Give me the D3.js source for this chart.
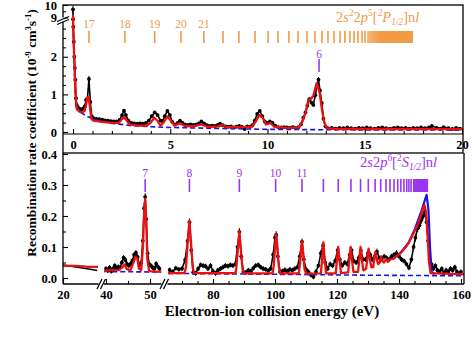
<!DOCTYPE html>
<html>
<head>
<meta charset="utf-8">
<script src="https://cdn.jsdelivr.net/npm/d3@7"></script>
<style>
  body { margin: 0; background: #fff; }
  svg text { font-family: "Liberation Serif", "Times New Roman", serif; }
</style>
</head>
<body>
<svg id="chart" width="474" height="339"></svg>
<script>
// ---------- data: upper panel (0-20 eV) ----------
// experimental points: [energy eV, rate coeff 1e-9 cm3/s, error]
const topExp = [
  [0.000, 9.65, 0.3], [0.005, 6.0, 0.3], [0.015, 2.80, 0.12], [0.04, 2.40, 0.1], [0.067, 2.00, 0.08],
  [0.095, 1.70, 0.07], [0.12, 1.39, 0.06], [0.155, 0.90, 0.05], [0.19, 0.72, 0.04], [0.25, 0.66, 0.04],
  [0.33, 0.62, 0.04], [0.42, 0.60, 0.04], [0.52, 0.62, 0.04], [0.60, 0.68, 0.05], [0.67, 0.85, 0.05],
  [0.74, 0.88, 0.05], [0.82, 1.41, 0.08], [0.89, 0.80, 0.05], [0.96, 0.42, 0.04], [1.05, 0.37, 0.03],
  [1.20, 0.35, 0.03], [1.35, 0.34, 0.03], [1.50, 0.33, 0.03], [1.65, 0.31, 0.03], [1.80, 0.30, 0.03],
  [1.95, 0.29, 0.03], [2.10, 0.28, 0.03], [2.25, 0.28, 0.03], [2.40, 0.32, 0.03], [2.52, 0.45, 0.04],
  [2.62, 0.57, 0.04], [2.72, 0.45, 0.04], [2.85, 0.30, 0.03], [3.00, 0.24, 0.03], [3.15, 0.23, 0.03],
  [3.30, 0.22, 0.03], [3.45, 0.23, 0.03], [3.60, 0.22, 0.03], [3.75, 0.24, 0.03], [3.90, 0.30, 0.03],
  [4.05, 0.42, 0.04], [4.20, 0.52, 0.04], [4.35, 0.45, 0.04], [4.50, 0.30, 0.03], [4.60, 0.29, 0.03],
  [4.72, 0.42, 0.04], [4.85, 0.56, 0.04], [4.98, 0.45, 0.04], [5.10, 0.27, 0.03], [5.24, 0.20, 0.03],
  [5.38, 0.24, 0.03], [5.50, 0.30, 0.03], [5.62, 0.25, 0.03], [5.76, 0.20, 0.03], [5.90, 0.19, 0.03],
  [6.05, 0.20, 0.03], [6.20, 0.19, 0.03], [6.35, 0.20, 0.03], [6.48, 0.23, 0.03], [6.60, 0.28, 0.03],
  [6.74, 0.23, 0.03], [6.88, 0.18, 0.03], [7.02, 0.16, 0.03], [7.16, 0.17, 0.03], [7.30, 0.16, 0.03],
  [7.44, 0.19, 0.03], [7.56, 0.22, 0.03], [7.70, 0.18, 0.03], [7.84, 0.15, 0.03], [7.98, 0.14, 0.03],
  [8.12, 0.15, 0.03], [8.26, 0.12, 0.03], [8.40, 0.14, 0.03], [8.54, 0.16, 0.03], [8.68, 0.14, 0.03],
  [8.82, 0.08, 0.03], [8.96, 0.15, 0.03], [9.10, 0.14, 0.03], [9.22, 0.18, 0.03], [9.34, 0.30, 0.03],
  [9.47, 0.48, 0.04], [9.60, 0.56, 0.04], [9.73, 0.42, 0.04], [9.86, 0.28, 0.03], [10.00, 0.24, 0.03],
  [10.12, 0.28, 0.03], [10.25, 0.25, 0.03], [10.40, 0.17, 0.03], [10.55, 0.13, 0.03], [10.70, 0.12, 0.03],
  [10.85, 0.13, 0.03], [11.00, 0.12, 0.03], [11.15, 0.11, 0.03], [11.30, 0.13, 0.03], [11.45, 0.10, 0.03],
  [11.60, 0.13, 0.03], [11.72, 0.20, 0.03], [11.84, 0.38, 0.04], [11.95, 0.52, 0.04], [12.05, 0.70, 0.05],
  [12.15, 0.87, 0.05], [12.26, 0.78, 0.05], [12.36, 0.72, 0.05], [12.46, 0.98, 0.06], [12.55, 1.25, 0.07],
  [12.62, 1.39, 0.07], [12.70, 1.10, 0.06], [12.79, 0.77, 0.05], [12.88, 0.35, 0.04], [12.98, 0.15, 0.03],
  [13.10, 0.10, 0.03], [13.30, 0.11, 0.03], [13.50, 0.09, 0.03], [13.70, 0.11, 0.03], [13.90, 0.10, 0.03],
  [14.10, 0.12, 0.03], [14.30, 0.10, 0.03], [14.50, 0.09, 0.03], [14.70, 0.11, 0.03], [14.90, 0.10, 0.03],
  [15.10, 0.12, 0.03], [15.30, 0.10, 0.03], [15.50, 0.09, 0.03], [15.70, 0.11, 0.03], [15.90, 0.12, 0.03],
  [16.10, 0.10, 0.03], [16.30, 0.09, 0.03], [16.50, 0.11, 0.03], [16.70, 0.12, 0.03], [16.90, 0.10, 0.03],
  [17.10, 0.11, 0.03], [17.30, 0.09, 0.03], [17.50, 0.11, 0.03], [17.70, 0.10, 0.03], [17.90, 0.12, 0.03],
  [18.10, 0.10, 0.03], [18.30, 0.12, 0.03], [18.45, 0.16, 0.03], [18.70, 0.11, 0.03], [18.90, 0.09, 0.03],
  [19.05, 0.13, 0.03], [19.30, 0.10, 0.03], [19.50, 0.08, 0.03], [19.70, 0.11, 0.03], [19.90, 0.09, 0.03]
];
// theory (red) [energy, value]
const topTheory = [
  [0, 9.2], [0.005, 5.0], [0.015, 2.7], [0.04, 2.3], [0.067, 1.9], [0.095, 1.5], [0.12, 1.15], [0.155, 0.8],
  [0.19, 0.62], [0.3, 0.55], [0.45, 0.52], [0.6, 0.56], [0.67, 0.72], [0.74, 0.92], [0.82, 0.93], [0.88, 0.6],
  [0.95, 0.35], [1.05, 0.3], [1.5, 0.27], [2.0, 0.24], [2.35, 0.24], [2.5, 0.33], [2.62, 0.4], [2.74, 0.32],
  [2.9, 0.2], [3.3, 0.17], [3.8, 0.17], [4.0, 0.25], [4.18, 0.38], [4.34, 0.3], [4.5, 0.17], [4.65, 0.25],
  [4.85, 0.41], [5.0, 0.32], [5.2, 0.17], [5.5, 0.23], [5.75, 0.16], [6.2, 0.15], [6.6, 0.2], [6.9, 0.14],
  [7.5, 0.15], [7.65, 0.19], [7.9, 0.13], [8.5, 0.13], [9.2, 0.14], [9.4, 0.28], [9.58, 0.45], [9.75, 0.38],
  [9.92, 0.2], [10.15, 0.24], [10.35, 0.14], [11.0, 0.11], [11.6, 0.12], [11.8, 0.28], [11.95, 0.5],
  [12.1, 0.85], [12.22, 0.88], [12.35, 0.95], [12.53, 1.3], [12.68, 1.05], [12.8, 0.6], [12.92, 0.25],
  [13.05, 0.1], [13.5, 0.08], [16, 0.08], [20.2, 0.075]
];
// radiative recombination background (blue dashed)
const topRR = [
  [0, 9.0], [0.01, 3.0], [0.04, 2.2], [0.08, 1.5], [0.12, 1.0], [0.16, 0.8], [0.25, 0.62], [0.4, 0.52],
  [0.7, 0.42], [1.0, 0.36], [1.5, 0.28], [2.0, 0.23], [3.0, 0.17], [4.0, 0.14], [5.0, 0.12], [6.0, 0.11],
  [8.0, 0.09], [10.0, 0.07], [13.0, 0.06], [16.0, 0.055], [20.2, 0.05]
];
// Rydberg markers 2s2 2p5 [2P1/2] nl (orange) and 2s2p6 [2S1/2] 6l (purple)
const orangeN = [17, 18, 19, 20, 21];
const orangeLabelE = [0.82, 2.67, 4.2, 5.55, 6.73];
const orangeTickE = [0.82, 2.67, 4.2, 5.55, 6.73, 7.71, 8.53, 9.36, 10.03, 10.54, 11.1, 11.57, 12.03,
  12.44, 12.8, 13.11, 13.42, 13.73, 13.98, 14.24, 14.45, 14.65, 14.86, 15.01];
const orangeBand = [15.12, 17.48];
const topPurpleN = [6];
const topPurpleE = [12.65];

// ---------- data: lower panel (20-160 eV) ----------
const lowExpLine = [[20, 0.042], [25, 0.037], [30, 0.032], [34, 0.028], [37.6, 0.024]];
const lowExp = [
  [40.0, 0.030, 0.008], [40.4, 0.024, 0.008], [40.8, 0.034, 0.008], [41.2, 0.022, 0.008], [41.6, 0.030, 0.008],
  [42.0, 0.040, 0.008], [42.4, 0.030, 0.008], [42.8, 0.036, 0.008], [43.2, 0.034, 0.008], [43.6, 0.050, 0.008],
  [44.0, 0.066, 0.008], [44.4, 0.058, 0.008], [44.8, 0.045, 0.008], [45.2, 0.040, 0.008], [45.6, 0.046, 0.008],
  [46.0, 0.056, 0.008], [46.4, 0.075, 0.008], [46.8, 0.082, 0.008], [47.2, 0.068, 0.008], [47.6, 0.040, 0.008],
  [48.0, 0.048, 0.008], [48.35, 0.120, 0.01], [48.65, 0.225, 0.012], [48.9, 0.262, 0.012], [49.15, 0.190, 0.01],
  [49.45, 0.080, 0.008], [49.8, 0.045, 0.008], [50.2, 0.040, 0.008], [50.6, 0.034, 0.008], [51.0, 0.030, 0.008],
  [51.4, 0.046, 0.008], [51.8, 0.036, 0.008], [52.2, 0.030, 0.008],
  [66.0, 0.026, 0.008], [67.0, 0.020, 0.008], [68.0, 0.032, 0.008], [69.0, 0.028, 0.008], [70.0, 0.030, 0.008],
  [71.0, 0.058, 0.008], [71.8, 0.120, 0.01], [72.4, 0.180, 0.012], [73.0, 0.090, 0.01], [73.6, 0.018, 0.008],
  [74.4, 0.015, 0.008], [75.2, 0.030, 0.008], [76.0, 0.042, 0.008], [76.8, 0.040, 0.008], [77.6, 0.038, 0.008],
  [78.4, 0.030, 0.008], [79.2, 0.040, 0.008], [80.0, 0.022, 0.008], [80.8, 0.015, 0.008], [81.6, 0.025, 0.008],
  [82.4, 0.030, 0.008], [83.2, 0.035, 0.008], [84.0, 0.040, 0.008], [84.8, 0.038, 0.008], [85.6, 0.042, 0.008],
  [86.4, 0.040, 0.008], [87.2, 0.045, 0.008], [87.9, 0.100, 0.01], [88.5, 0.149, 0.012], [89.1, 0.070, 0.01],
  [89.8, 0.020, 0.008], [90.6, 0.018, 0.008], [91.4, 0.025, 0.008], [92.2, 0.022, 0.008], [93.0, 0.032, 0.008],
  [93.8, 0.040, 0.008], [94.6, 0.042, 0.008], [95.4, 0.035, 0.008], [96.2, 0.030, 0.008], [97.0, 0.028, 0.008],
  [97.8, 0.024, 0.008], [98.6, 0.030, 0.008], [99.4, 0.075, 0.01], [100.0, 0.130, 0.012], [100.4, 0.139, 0.012],
  [100.9, 0.070, 0.01], [101.6, 0.020, 0.008], [102.4, 0.022, 0.008], [103.2, 0.026, 0.008], [104.0, 0.022, 0.008],
  [104.8, 0.028, 0.008], [105.6, 0.025, 0.008], [106.4, 0.030, 0.008], [107.2, 0.035, 0.008], [108.0, 0.070, 0.01],
  [108.7, 0.117, 0.01], [109.3, 0.060, 0.008], [110.0, 0.028, 0.008], [110.8, 0.020, 0.008], [111.6, 0.010, 0.008],
  [112.4, 0.004, 0.008], [113.2, 0.020, 0.008], [114.0, 0.040, 0.008], [114.8, 0.080, 0.01], [115.5, 0.105, 0.01],
  [116.2, 0.050, 0.008], [117.0, 0.030, 0.008], [117.8, 0.045, 0.008], [118.6, 0.040, 0.008], [119.4, 0.055, 0.008],
  [120.2, 0.090, 0.01], [120.9, 0.060, 0.008], [121.7, 0.040, 0.008], [122.5, 0.050, 0.008], [123.3, 0.045, 0.008],
  [124.1, 0.075, 0.01], [124.7, 0.090, 0.01], [125.4, 0.055, 0.008], [126.2, 0.050, 0.008], [127.0, 0.065, 0.008],
  [127.7, 0.088, 0.01], [128.4, 0.060, 0.008], [129.2, 0.060, 0.008], [130.0, 0.080, 0.01], [130.7, 0.075, 0.01],
  [131.4, 0.060, 0.008], [132.2, 0.070, 0.008], [132.9, 0.085, 0.01], [133.6, 0.065, 0.008], [134.4, 0.060, 0.008],
  [135.2, 0.070, 0.008], [136.0, 0.065, 0.008], [136.8, 0.060, 0.008], [137.6, 0.070, 0.008], [138.4, 0.075, 0.008],
  [139.2, 0.080, 0.01], [140.0, 0.070, 0.01], [140.8, 0.060, 0.008], [141.6, 0.055, 0.008], [142.4, 0.045, 0.008],
  [143.2, 0.033, 0.008], [144.0, 0.060, 0.01], [144.7, 0.100, 0.01], [145.3, 0.130, 0.012], [146.0, 0.160, 0.012],
  [146.6, 0.170, 0.012], [147.2, 0.187, 0.012], [147.8, 0.200, 0.012], [148.4, 0.214, 0.012], [148.9, 0.180, 0.012],
  [149.4, 0.120, 0.01], [149.9, 0.060, 0.008], [150.5, 0.045, 0.008], [151.1, 0.030, 0.008], [151.7, 0.040, 0.008],
  [152.4, 0.025, 0.008], [153.1, 0.020, 0.008], [153.8, 0.030, 0.008], [154.5, 0.015, 0.008], [155.2, 0.025, 0.008],
  [155.9, 0.020, 0.008], [156.6, 0.030, 0.008], [157.3, 0.025, 0.008], [158.0, 0.035, 0.008], [158.7, 0.020, 0.008],
  [159.4, 0.015, 0.008], [160.0, 0.020, 0.008]
];
const lowTheory = [
  [20, 0.040], [26, 0.039], [32, 0.037], [38, 0.036],
  [39.6, 0.024], [43.0, 0.026], [43.7, 0.034], [44.2, 0.044], [44.7, 0.030], [45.5, 0.024], [46.2, 0.048],
  [46.7, 0.068], [47.1, 0.064], [47.5, 0.030], [48.0, 0.026], [48.4, 0.10], [48.7, 0.22], [48.9, 0.255],
  [49.1, 0.20], [49.4, 0.06], [49.8, 0.022], [52.6, 0.020],
  [65.5, 0.016], [70.8, 0.016], [71.3, 0.035], [71.8, 0.11], [72.4, 0.185], [73.0, 0.10], [73.5, 0.03], [74.0, 0.016],
  [87.2, 0.016], [87.5, 0.03], [88.0, 0.09], [88.5, 0.15], [89.0, 0.09], [89.5, 0.03], [90.0, 0.015],
  [99.2, 0.015], [99.6, 0.04], [100.0, 0.10], [100.4, 0.14], [100.8, 0.10], [101.2, 0.04], [101.7, 0.015],
  [107.7, 0.015], [108.1, 0.05], [108.4, 0.09], [108.75, 0.118], [109.1, 0.08], [109.5, 0.03], [110.0, 0.014],
  [114.8, 0.015], [115.2, 0.06], [115.6, 0.115], [116.0, 0.06], [116.5, 0.015],
  [119.6, 0.015], [120.0, 0.06], [120.4, 0.10], [120.8, 0.06], [121.3, 0.016],
  [123.6, 0.018], [124.0, 0.06], [124.4, 0.10], [124.8, 0.06], [125.3, 0.02],
  [126.8, 0.02], [127.2, 0.06], [127.6, 0.10], [128.0, 0.06], [128.5, 0.025],
  [129.4, 0.03], [129.8, 0.065], [130.2, 0.095], [130.6, 0.06], [131.1, 0.035],
  [131.7, 0.035], [132.0, 0.065], [132.4, 0.085], [132.8, 0.06], [133.3, 0.045],
  [133.8, 0.05], [134.2, 0.07], [134.6, 0.055], [135.2, 0.05], [135.8, 0.062], [136.4, 0.052], [137.1, 0.06],
  [138.2, 0.062], [139.2, 0.07], [140.2, 0.078], [141.2, 0.088], [142.2, 0.10], [143.2, 0.115], [144.2, 0.135],
  [145.2, 0.155], [146.2, 0.175], [147.2, 0.205], [147.8, 0.225], [148.2, 0.235], [148.7, 0.215], [149.2, 0.14],
  [149.7, 0.05], [150.2, 0.016], [161, 0.012]
];
// second theory (blue solid), visible only near the series limit
const lowTheory2 = [
  [140.2, 0.078], [143.2, 0.115], [145.2, 0.16], [147.2, 0.215], [148.3, 0.25], [148.9, 0.268],
  [149.5, 0.22], [150.0, 0.10], [150.5, 0.02], [151.5, 0.012]
];
const lowRR = [
  [20, 0.039], [38, 0.035], [39.6, 0.021], [52.6, 0.019], [65.5, 0.015], [100, 0.012], [130, 0.009], [161, 0.007]
];
const purpleN = [7, 8, 9, 10, 11];
const purpleLabelE = [48.9, 72.4, 88.5, 100.2, 108.7];
const purpleTickE = [48.9, 72.4, 88.5, 100.2, 108.7, 115.6, 120.4, 124.5, 127.6, 130.1, 132.3, 134.1,
  135.8, 137.1, 138.4, 139.6, 140.6, 141.6, 142.5, 143.2, 143.9];
const purpleBand = [144.5, 149.4];

// tick values
const topXMajor = [0, 5, 10, 15, 20];
const topXMinor = d3.range(1, 20).filter(v => v % 5 !== 0);
const topYMajor = [0, 1, 2, 9, 10];
const topYMinor = [0.25, 0.5, 0.75, 1.25, 1.5, 1.75, 2.25, 2.5, 2.75, 9.5];
const lowYMajor = [0, 0.1, 0.2, 0.3, 0.4];
const lowYMinor = [0.05, 0.15, 0.25, 0.35];
const lowXMajor = [[20], [40, 50], [80, 100, 120, 140, 160]];
const lowXMinor = [[], [45], [70, 75, 85, 90, 95, 105, 110, 115, 125, 130, 135, 145, 150, 155]];

// ---------- drawing ----------
const ORANGE = "#f29a44", PURPLE = "#9b35f2", RED = "#ea1010", BLUE = "#1414e6";
const svg = d3.select("#chart");

const xTop = d3.scaleLinear().domain([0, 20]).range([73, 462]);
const yTop = d3.scaleLinear().domain([0, 2.95, 9, 10]).range([132, 21, 17.5, 5]);
const xLow = [
  d3.scaleLinear().domain([20, 38]).range([63, 98]),
  d3.scaleLinear().domain([40, 50]).range([106, 150]),
  d3.scaleLinear().domain([80, 160]).range([213, 461])
];
const segClip = [[63, 98.5], [104, 161.5], [167.5, 464]];
const segOf = e => e < 39 ? 0 : e < 60 ? 1 : 2;
const yLow = d3.scaleLinear().domain([0, 0.4]).range([278, 154]);

const defs = svg.append("defs");
defs.append("clipPath").attr("id", "clipTop").append("rect")
  .attr("x", 63).attr("y", 5).attr("width", 400).attr("height", 129);
segClip.forEach((c, i) => defs.append("clipPath").attr("id", "clipLow" + i).append("rect")
  .attr("x", c[0]).attr("y", 153).attr("width", c[1] - c[0]).attr("height", 131));

// orange band fades in from the left, like densely packed lines
const grad = defs.append("linearGradient").attr("id", "bandOrange");
grad.append("stop").attr("offset", "0%").attr("stop-color", ORANGE).attr("stop-opacity", 0.7);
grad.append("stop").attr("offset", "30%").attr("stop-color", ORANGE).attr("stop-opacity", 1);

function drawLine(g, data, x, y, color, width, dash) {
  g.append("path").datum(data)
    .attr("d", d3.line().x(d => x(d[0])).y(d => y(d[1])))
    .attr("fill", "none").attr("stroke", color).attr("stroke-width", width)
    .attr("stroke-dasharray", dash || null).attr("stroke-linejoin", "round");
}
function drawExp(g, data, x, y) {
  drawLine(g, data, x, y, "#000", 1.6);
  g.selectAll("line.err").data(data).join("line").attr("class", "err")
    .attr("x1", d => x(d[0])).attr("x2", d => x(d[0]))
    .attr("y1", d => y(d[1] - d[2])).attr("y2", d => y(d[1] + d[2]))
    .attr("stroke", "#000").attr("stroke-width", 1);
  g.selectAll("circle").data(data).join("circle")
    .attr("cx", d => x(d[0])).attr("cy", d => y(d[1])).attr("r", 1.9).attr("fill", "#000");
}
function styleAxis(g, size) {
  g.select(".domain").remove();
  g.selectAll("text").attr("font-family", "'Liberation Serif','Times New Roman',serif")
    .attr("font-size", size).attr("font-weight", "bold").attr("fill", "#000");
  g.selectAll("line").attr("stroke", "#000").attr("stroke-width", 1.1);
}
function rich(text, parts, size) {
  let shift = 0;
  parts.forEach(([t, kind]) => {
    const ts = text.append("tspan").text(t);
    const target = kind.includes("sup") ? -0.38 * size : kind.includes("sub") ? 0.22 * size : 0;
    ts.attr("dy", target - shift);
    shift = target;
    if (target !== 0) ts.attr("font-size", size * 0.65);
    if (kind.includes("i")) ts.attr("font-style", "italic");
  });
}

// ----- upper panel -----
const gTop = svg.append("g").attr("clip-path", "url(#clipTop)");
drawExp(gTop, topExp, xTop, yTop);
drawLine(gTop, topRR, xTop, yTop, BLUE, 1.6, "5,3");
drawLine(gTop, topTheory, xTop, yTop, RED, 2.3);

svg.append("rect").attr("x", 63).attr("y", 5).attr("width", 400).attr("height", 148)
  .attr("fill", "none").attr("stroke", "#000").attr("stroke-width", 1.3);
svg.append("line").attr("x1", 63).attr("x2", 463).attr("y1", 134).attr("y2", 134)
  .attr("stroke", "#000").attr("stroke-width", 1.1);

const axTopX = svg.append("g").attr("transform", "translate(0,134)")
  .call(d3.axisBottom(xTop).tickValues(topXMajor).tickSize(-5).tickPadding(6).tickFormat(d3.format("d")));
styleAxis(axTopX, 12.5);
const axTopXm = svg.append("g").attr("transform", "translate(0,134)")
  .call(d3.axisBottom(xTop).tickValues(topXMinor).tickSize(-3).tickFormat(""));
styleAxis(axTopXm, 12);

const axTopY = svg.append("g").attr("transform", "translate(63,0)")
  .call(d3.axisLeft(yTop).tickValues(topYMajor).tickSize(-5).tickPadding(6).tickFormat(d3.format("d")));
styleAxis(axTopY, 12.5);
const axTopYm = svg.append("g").attr("transform", "translate(63,0)")
  .call(d3.axisLeft(yTop).tickValues(topYMinor).tickSize(-3).tickFormat(""));
styleAxis(axTopYm, 12);

// y-axis break
svg.append("rect").attr("x", 61).attr("y", 17.5).attr("width", 4).attr("height", 4).attr("fill", "#fff");
[[57, 21.5, 69, 16.5], [57, 24.5, 69, 19.5]].forEach(p =>
  svg.append("line").attr("x1", p[0]).attr("y1", p[1]).attr("x2", p[2]).attr("y2", p[3])
    .attr("stroke", "#000").attr("stroke-width", 1.2));

// orange Rydberg markers
svg.append("g").selectAll("line").data(orangeTickE).join("line")
  .attr("x1", d => xTop(d)).attr("x2", d => xTop(d)).attr("y1", 31).attr("y2", 43)
  .attr("stroke", ORANGE).attr("stroke-width", 1.6);
svg.append("rect").attr("x", xTop(orangeBand[0])).attr("y", 31)
  .attr("width", xTop(orangeBand[1]) - xTop(orangeBand[0])).attr("height", 12).attr("fill", "url(#bandOrange)");
svg.append("g").selectAll("text").data(orangeN).join("text")
  .attr("x", (d, i) => xTop(orangeLabelE[i])).attr("y", 28).attr("text-anchor", "middle")
  .attr("font-size", 11.5).attr("fill", ORANGE).text(d => d);
rich(svg.append("text").attr("x", 336).attr("y", 22).attr("font-size", 14.5).attr("fill", ORANGE),
  [["2", ""], ["s", "i"], ["2", "sup"], ["2", ""], ["p", "i"], ["5", "sup"], ["[", ""], ["2", "sup"],
   ["P", "i"], ["1/2", "sub i"], ["]", ""], ["n", ""], ["l", "i"]], 14.5);

// purple n=6 marker in upper panel
svg.append("g").selectAll("line").data(topPurpleE).join("line")
  .attr("x1", d => xTop(d)).attr("x2", d => xTop(d)).attr("y1", 59).attr("y2", 72)
  .attr("stroke", PURPLE).attr("stroke-width", 1.6);
svg.append("g").selectAll("text").data(topPurpleN).join("text")
  .attr("x", (d, i) => xTop(topPurpleE[i])).attr("y", 57.5).attr("text-anchor", "middle")
  .attr("font-size", 11.5).attr("fill", PURPLE).text(d => d);

// ----- lower panel -----
xLow.forEach((x, i) => {
  const g = svg.append("g").attr("clip-path", `url(#clipLow${i})`);
  const pick = arr => arr.filter(d => segOf(d[0]) === i);
  if (i === 0) drawLine(g, lowExpLine, x, yLow, "#000", 1.5);
  else drawExp(g, pick(lowExp), x, yLow);
  drawLine(g, pick(lowRR), x, yLow, BLUE, 1.6, "5,3");
  if (pick(lowTheory2).length) drawLine(g, pick(lowTheory2), x, yLow, BLUE, 2.2);
  drawLine(g, pick(lowTheory), x, yLow, RED, 2.3);

  // axis segment
  svg.append("line").attr("x1", segClip[i][0]).attr("x2", segClip[i][1]).attr("y1", 284).attr("y2", 284)
    .attr("stroke", "#000").attr("stroke-width", 1.3);
  const ax = svg.append("g").attr("transform", "translate(0,284)")
    .call(d3.axisBottom(x).tickValues(lowXMajor[i]).tickSize(-5).tickPadding(6).tickFormat(d3.format("d")));
  styleAxis(ax, 12.5);
  const axm = svg.append("g").attr("transform", "translate(0,284)")
    .call(d3.axisBottom(x).tickValues(lowXMinor[i]).tickSize(-3).tickFormat(""));
  styleAxis(axm, 12);
});

// axis breaks on lower x axis
[99.5, 103, 162.5, 166].forEach(bx =>
  svg.append("line").attr("x1", bx - 2.5).attr("y1", 289).attr("x2", bx + 2.5).attr("y2", 279)
    .attr("stroke", "#000").attr("stroke-width", 1.2));

svg.append("line").attr("x1", 63).attr("x2", 63).attr("y1", 153).attr("y2", 284).attr("stroke", "#000").attr("stroke-width", 1.3);
svg.append("line").attr("x1", 464).attr("x2", 464).attr("y1", 153).attr("y2", 284).attr("stroke", "#000").attr("stroke-width", 1.3);

const axLowY = svg.append("g").attr("transform", "translate(63,0)")
  .call(d3.axisLeft(yLow).tickValues(lowYMajor).tickSize(-5).tickPadding(6).tickFormat(d3.format(".1f")));
styleAxis(axLowY, 12.5);
const axLowYm = svg.append("g").attr("transform", "translate(63,0)")
  .call(d3.axisLeft(yLow).tickValues(lowYMinor).tickSize(-3).tickFormat(""));
styleAxis(axLowYm, 12);

// purple Rydberg markers
svg.append("g").selectAll("line").data(purpleTickE).join("line")
  .attr("x1", d => xLow[segOf(d)](d)).attr("x2", d => xLow[segOf(d)](d)).attr("y1", 179).attr("y2", 192)
  .attr("stroke", PURPLE).attr("stroke-width", 1.6);
svg.append("rect").attr("x", xLow[2](purpleBand[0])).attr("y", 179)
  .attr("width", xLow[2](purpleBand[1]) - xLow[2](purpleBand[0])).attr("height", 13).attr("fill", PURPLE);
svg.append("g").selectAll("text").data(purpleN).join("text")
  .attr("x", (d, i) => xLow[segOf(purpleLabelE[i])](purpleLabelE[i])).attr("y", 177).attr("text-anchor", "middle")
  .attr("font-size", 11.5).attr("fill", PURPLE).text(d => d);
rich(svg.append("text").attr("x", 360).attr("y", 167).attr("font-size", 14.5).attr("fill", PURPLE),
  [["2", ""], ["s", "i"], ["2", ""], ["p", "i"], ["6", "sup"], ["[", ""], ["2", "sup"],
   ["S", "i"], ["1/2", "sub i"], ["]", ""], ["n", ""], ["l", "i"]], 14.5);

// axis titles
svg.append("text").attr("x", 272).attr("y", 316).attr("text-anchor", "middle")
  .attr("font-size", 15).attr("font-weight", "bold").text("Electron-ion collision energy (eV)");
rich(svg.append("text").attr("transform", "translate(36,133) rotate(-90)").attr("text-anchor", "middle")
  .attr("font-size", 13.5).attr("font-weight", "bold"),
  [["Recombination rate coefficient (10", ""], ["-9", "sup"], [" cm", ""], ["3", "sup"], ["s", ""],
   ["-1", "sup"], [")", ""]], 13.5);
</script>
</body>
</html>
